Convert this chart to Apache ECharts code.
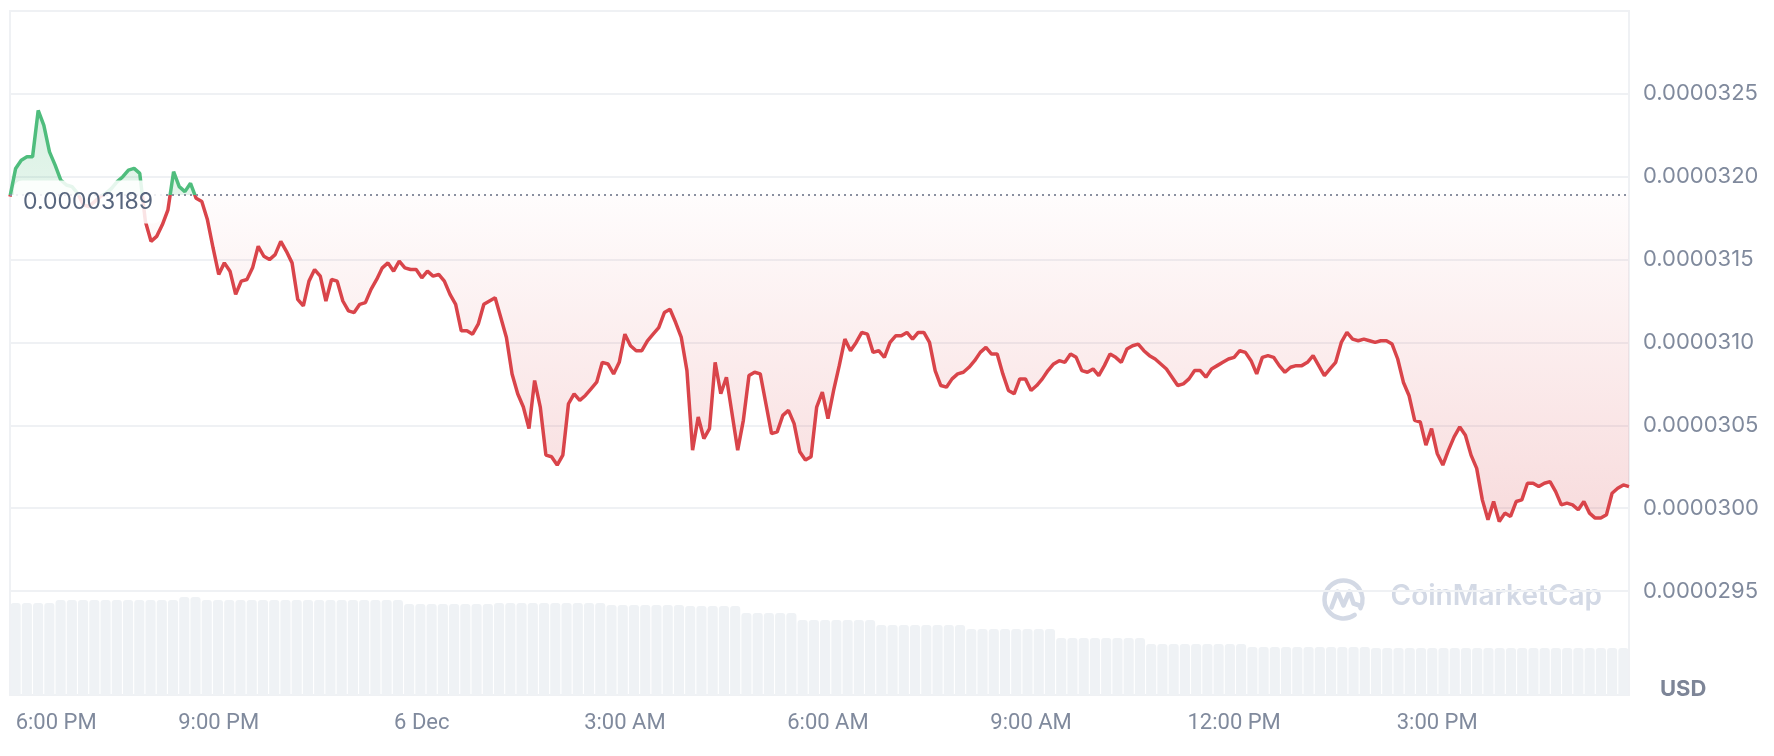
<!DOCTYPE html>
<html>
<head>
<meta charset="utf-8">
<title>Price chart</title>
<script src="https://cdn.jsdelivr.net/npm/echarts@6/dist/echarts.min.js"></script>
<style>
  html, body { margin: 0; padding: 0; background: #fff; }
  #chart { width: 1774px; height: 756px; }
</style>
</head>
<body>
<div id="chart"></div>
<script>
// opening price of the window (dotted reference line)
const openPrice = 3189e-8;

// 5-minute closes, 5 Dec 17:55 -> 6 Dec 17:50
const prices = [
  3188e-8, 3205e-8, 3210e-8, 3212e-8, 3212e-8, 3240e-8, 3231e-8, 3215e-8, 3207e-8, 3198e-8,
  3195e-8, 3194e-8, 3190e-8, 3183e-8, 3182e-8, 3185e-8, 3188e-8, 3190e-8, 3193e-8, 3197e-8,
  3200e-8, 3204e-8, 3205e-8, 3202e-8, 3173e-8, 3161e-8, 3164e-8, 3171e-8, 3180e-8, 3203e-8,
  3194e-8, 3191e-8, 3196e-8, 3187e-8, 3185e-8, 3174e-8, 3157e-8, 3141e-8, 3148e-8, 3143e-8,
  3129e-8, 3137e-8, 3138e-8, 3145e-8, 3158e-8, 3152e-8, 3150e-8, 3153e-8, 3161e-8, 3155e-8,
  3148e-8, 3126e-8, 3122e-8, 3137e-8, 3144e-8, 3140e-8, 3125e-8, 3138e-8, 3137e-8, 3125e-8,
  3119e-8, 3118e-8, 3123e-8, 3124e-8, 3132e-8, 3138e-8, 3145e-8, 3148e-8, 3143e-8, 3149e-8,
  3145e-8, 3144e-8, 3144e-8, 3139e-8, 3143e-8, 3140e-8, 3141e-8, 3137e-8, 3129e-8, 3123e-8,
  3107e-8, 3107e-8, 3105e-8, 3111e-8, 3123e-8, 3125e-8, 3127e-8, 3115e-8, 3103e-8, 3081e-8,
  3069e-8, 3061e-8, 3048e-8, 3077e-8, 3061e-8, 3032e-8, 3031e-8, 3026e-8, 3032e-8, 3063e-8,
  3069e-8, 3065e-8, 3068e-8, 3072e-8, 3076e-8, 3088e-8, 3087e-8, 3081e-8, 3088e-8, 3105e-8,
  3098e-8, 3095e-8, 3095e-8, 3101e-8, 3105e-8, 3109e-8, 3118e-8, 3120e-8, 3112e-8, 3103e-8,
  3083e-8, 3035e-8, 3055e-8, 3042e-8, 3048e-8, 3088e-8, 3069e-8, 3079e-8, 3057e-8, 3035e-8,
  3053e-8, 3080e-8, 3082e-8, 3081e-8, 3063e-8, 3045e-8, 3046e-8, 3056e-8, 3059e-8, 3051e-8,
  3034e-8, 3029e-8, 3031e-8, 3061e-8, 3070e-8, 3054e-8, 3071e-8, 3086e-8, 3102e-8, 3095e-8,
  3100e-8, 3106e-8, 3105e-8, 3094e-8, 3095e-8, 3091e-8, 3100e-8, 3104e-8, 3104e-8, 3106e-8,
  3102e-8, 3106e-8, 3106e-8, 3100e-8, 3083e-8, 3074e-8, 3073e-8, 3078e-8, 3081e-8, 3082e-8,
  3085e-8, 3089e-8, 3094e-8, 3097e-8, 3093e-8, 3093e-8, 3081e-8, 3071e-8, 3069e-8, 3078e-8,
  3078e-8, 3071e-8, 3074e-8, 3078e-8, 3083e-8, 3087e-8, 3089e-8, 3088e-8, 3093e-8, 3091e-8,
  3083e-8, 3082e-8, 3084e-8, 3080e-8, 3086e-8, 3093e-8, 3091e-8, 3088e-8, 3096e-8, 3098e-8,
  3099e-8, 3095e-8, 3092e-8, 3090e-8, 3087e-8, 3084e-8, 3079e-8, 3074e-8, 3075e-8, 3078e-8,
  3083e-8, 3083e-8, 3079e-8, 3084e-8, 3086e-8, 3088e-8, 3090e-8, 3091e-8, 3095e-8, 3094e-8,
  3089e-8, 3081e-8, 3091e-8, 3092e-8, 3091e-8, 3086e-8, 3082e-8, 3085e-8, 3086e-8, 3086e-8,
  3088e-8, 3092e-8, 3086e-8, 3080e-8, 3084e-8, 3088e-8, 3100e-8, 3106e-8, 3102e-8, 3101e-8,
  3102e-8, 3101e-8, 3100e-8, 3101e-8, 3101e-8, 3099e-8, 3090e-8, 3076e-8, 3068e-8, 3053e-8,
  3052e-8, 3038e-8, 3048e-8, 3033e-8, 3026e-8, 3035e-8, 3043e-8, 3049e-8, 3044e-8, 3032e-8,
  3024e-8, 3005e-8, 2993e-8, 3004e-8, 2992e-8, 2997e-8, 2995e-8, 3004e-8, 3005e-8, 3015e-8,
  3015e-8, 3013e-8, 3015e-8, 3016e-8, 3010e-8, 3002e-8, 3003e-8, 3002e-8, 2999e-8, 3004e-8,
  2997e-8, 2994e-8, 2994e-8, 2996e-8, 3009e-8, 3012e-8, 3014e-8, 3013e-8
];

// 10-minute volume bars (relative)
const volumes = [
  92, 92, 92, 92, 95, 95, 95, 95, 95, 95, 95, 95, 95, 95, 95, 98, 98, 95, 95, 95,
  95, 95, 95, 95, 95, 95, 95, 95, 95, 95, 95, 95, 95, 95, 95, 91, 91, 91, 91, 91,
  91, 91, 91, 92, 92, 92, 92, 92, 92, 92, 92, 92, 92, 90, 90, 90, 90, 90, 90, 90,
  89, 89, 89, 89, 89, 82, 82, 82, 82, 82, 75, 75, 75, 75, 75, 75, 75, 70, 70, 70,
  70, 70, 70, 70, 70, 66, 66, 66, 66, 66, 66, 66, 66, 57, 57, 57, 57, 57, 57, 57,
  57, 51, 51, 51, 51, 51, 51, 51, 51, 51, 48, 48, 48, 48, 48, 48, 48, 48, 48, 48,
  48, 47, 47, 47, 47, 47, 47, 47, 47, 47, 47, 47, 47, 47, 47, 47, 47, 47, 47, 47,
  47, 47, 47, 47
];

const yTicks = { min: 2950e-8, max: 3300e-8, interval: 50e-8 };

const startTime = Date.UTC(2024, 11, 5, 17, 55);
const months = ['Jan', 'Feb', 'Mar', 'Apr', 'May', 'Jun', 'Jul', 'Aug', 'Sep', 'Oct', 'Nov', 'Dec'];

const priceTimes = prices.map((_, i) => startTime + i * 5 * 60000);
const volumeTimes = volumes.map((_, i) => startTime + i * 10 * 60000);

const up = '#4fbd7d';
const down = '#d9444a';
const labelGray = '#808a9d';
const lineGray = '#eff1f4';

function timeLabel(t) {
  const d = new Date(+t);
  const h = d.getUTCHours();
  const m = d.getUTCMinutes();
  if (h === 0 && m === 0) return d.getUTCDate() + ' ' + months[d.getUTCMonth()];
  const h12 = h % 12 === 0 ? 12 : h % 12;
  return h12 + ':' + (m < 10 ? '0' + m : m) + ' ' + (h < 12 ? 'AM' : 'PM');
}

const chart = echarts.init(document.getElementById('chart'));

let option = {
  animation: false,
  backgroundColor: '#fff',
  title: {
    text: 'USD',
    left: 1655,
    top: 673,
    textStyle: { fontSize: 22, fontWeight: 'bold', color: '#7d8597', fontFamily: 'Inter' },
  },
  grid: [
    {
      left: 10, right: 145, top: 11, height: 580,
      show: true, borderColor: lineGray, borderWidth: 2,
    },
    {
      left: 10, right: 145, top: 591, height: 104,
      show: true, borderColor: lineGray, borderWidth: 2,
    },
  ],
  xAxis: [
    {
      gridIndex: 0,
      type: 'category',
      data: priceTimes,
      boundaryGap: false,
      offset: 104,
      axisLine: { show: false },
      axisTick: { show: false },
      splitLine: { show: false },
      axisLabel: {
        interval: function(index, value) {
          const d = new Date(+value);
          return d.getUTCMinutes() === 0 && d.getUTCHours() % 3 === 0;
        },
        formatter: function(value) {
          return timeLabel(value);
        },
        alignMinLabel: 'left',
        margin: 17,
        fontSize: 22,
        color: labelGray,
        fontFamily: 'Roboto',
      },
    },
    {
      gridIndex: 1,
      type: 'category',
      data: volumeTimes,
      axisLine: { show: false },
      axisTick: { show: false },
      axisLabel: { show: false },
    },
  ],
  yAxis: [
    {
      gridIndex: 0,
      type: 'value',
      position: 'right',
      min: yTicks.min,
      max: yTicks.max,
      interval: yTicks.interval,
      axisLine: { show: false },
      axisTick: { show: false },
      splitLine: { lineStyle: { color: lineGray, width: 2 } },
      axisLabel: {
        showMaxLabel: false,
        margin: 14,
        fontSize: 22,
        color: labelGray,
        fontFamily: 'Inter',
        formatter: function(v) {
          return v.toFixed(7);
        },
      },
    },
    {
      gridIndex: 1,
      type: 'value',
      position: 'right',
      min: 0,
      max: 104,
      axisLine: { show: false },
      axisTick: { show: false },
      axisLabel: { show: false },
      splitLine: { show: false },
    },
  ],
  visualMap: {
    show: false,
    type: 'piecewise',
    seriesIndex: 0,
    pieces: [
      { gt: 0, lt: openPrice, color: down },
      { gte: openPrice, lt: 1e-4, color: up },
    ],
  },
  graphic: [
    {
      type: 'group',
      left: 1322,
      top: 578,
      z: 0,
      silent: true,
      children: [
        {
          type: 'arc',
          shape: { cx: 21, cy: 22, r: 19, startAngle: Math.PI * 0.3, endAngle: Math.PI * 2.15 },
          style: { stroke: '#d3d9e5', lineWidth: 4.5, fill: null, lineCap: 'round' },
        },
        {
          type: 'polyline',
          shape: { points: [[9, 30], [15, 14], [21, 28], [27, 14], [31, 26], [37, 28]] },
          style: { stroke: '#d3d9e5', lineWidth: 4.5, fill: null, lineJoin: 'round', lineCap: 'round' },
        },
        {
          type: 'text',
          x: 68,
          y: 5,
          style: {
            text: 'CoinMarketCap',
            fontSize: 28,
            fontWeight: 600,
            fontFamily: 'Inter',
            fill: '#d3d9e5',
          },
        },
      ],
    },
  ],
  series: [
    {
      name: 'Price',
      type: 'line',
      xAxisIndex: 0,
      yAxisIndex: 0,
      data: prices,
      showSymbol: false,
      symbol: 'none',
      lineStyle: { width: 3.5 },
      areaStyle: { origin: openPrice, color: 'rgba(217,68,74,0.1)' },
      markLine: {
        silent: true,
        symbol: 'none',
        precision: 12,
        z: 6,
        lineStyle: { color: '#8a90a0', type: [2, 4], width: 2 },
        label: {
          position: 'insideStartBottom',
          distance: [4, 7],
          align: 'left',
          verticalAlign: 'middle',
          formatter: openPrice.toFixed(8),
          fontSize: 23,
          fontFamily: 'Inter',
          color: '#58667e',
          backgroundColor: 'rgba(255,255,255,0.86)',
          padding: [10, 9],
          borderRadius: 8,
        },
        data: [{ yAxis: openPrice }],
      },
    },
    {
      name: 'Volume',
      type: 'bar',
      xAxisIndex: 1,
      yAxisIndex: 1,
      data: volumes,
      barCategoryGap: '10%',
      itemStyle: { color: '#eff2f5', borderRadius: [3, 3, 0, 0] },
      silent: true,
    },
  ],
};

chart.setOption(option);

// area fill: green above the open price, fading red below it
const yTop = chart.convertToPixel({ yAxisIndex: 0 }, Math.max.apply(null, prices));
const yBot = chart.convertToPixel({ yAxisIndex: 0 }, Math.min.apply(null, prices));
const yBase = chart.convertToPixel({ yAxisIndex: 0 }, openPrice);
const f = (yBase - yTop) / (yBot - yTop);
chart.setOption({
  series: [
    {
      name: 'Price',
      areaStyle: {
        origin: openPrice,
        color: new echarts.graphic.LinearGradient(0, yTop, 0, yBot, [
          { offset: 0, color: 'rgba(79,189,125,0.30)' },
          { offset: f, color: 'rgba(79,189,125,0.22)' },
          { offset: f, color: 'rgba(217,68,74,0.02)' },
          { offset: 1, color: 'rgba(217,68,74,0.27)' },
        ], true),
      },
    },
  ],
});
</script>
</body>
</html>
